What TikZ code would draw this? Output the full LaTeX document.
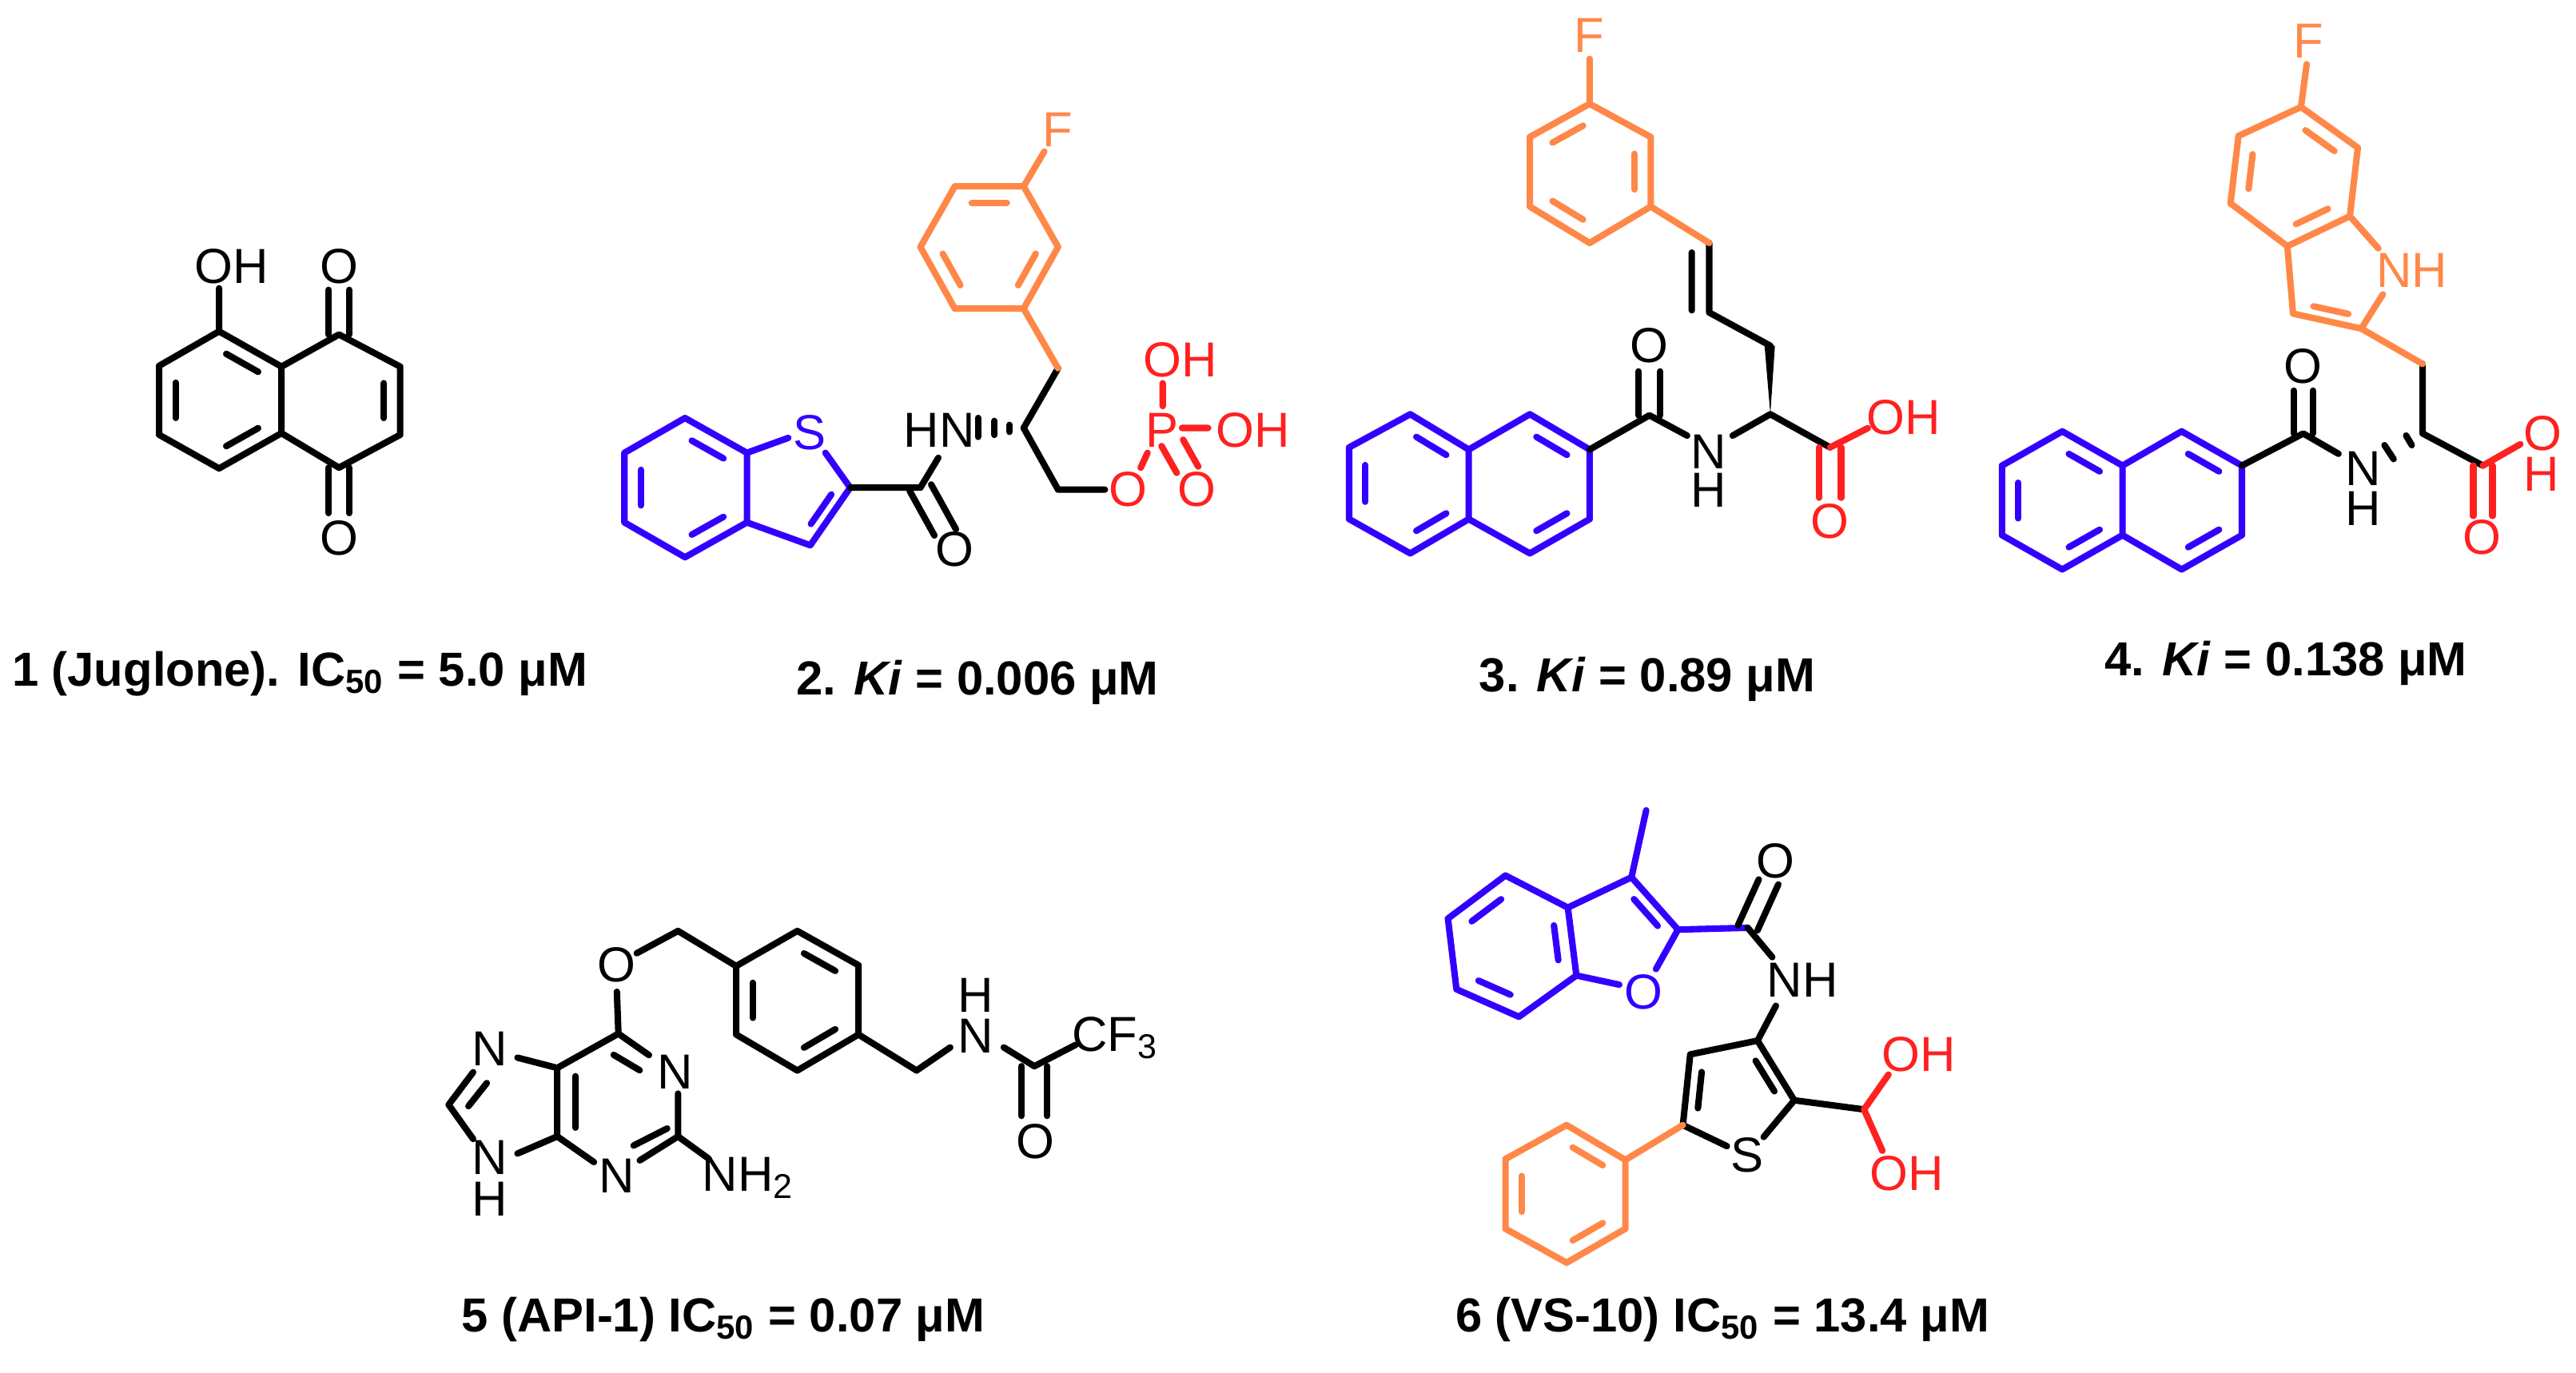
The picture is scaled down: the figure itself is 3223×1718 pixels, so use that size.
\documentclass[tikz,border=0pt]{standalone}
\usepackage{fontspec}
\setmainfont{Liberation Sans}
\usetikzlibrary{calc}
\definecolor{cb}{HTML}{3300FF}
\definecolor{co}{HTML}{FF8849}
\definecolor{cr}{HTML}{FF2020}
\newcommand{\ib}[4][black]{\draw[bond,#1] ($(#2)!0.15!(#3)!0.27!(#4)$) -- ($(#3)!0.15!(#2)!0.27!(#4)$);}
\newcommand{\dbl}[3][black]{\draw[bond,#1] ($(#2)!2.4pt!90:(#3)$) -- ($(#3)!2.4pt!-90:(#2)$); \draw[bond,#1] ($(#2)!2.4pt!-90:(#3)$) -- ($(#3)!2.4pt!90:(#2)$);}
\tikzset{bond/.style={line width=2.3pt,line cap=round,line join=round},
 atom/.style={inner sep=0pt,font=\fontsize{17.5}{20}\selectfont},
 caption/.style={inner sep=0pt,font=\fontsize{17}{20}\selectfont\bfseries},
 mol/.style n args={4}{shift={(#1,#2)},xscale=#3,yscale=#4,shift={(-#1,-#2)}}}
\begin{document}
\begin{tikzpicture}[x=0.01cm,y=-0.01cm]
\useasboundingbox[fill=white] (0,0) rectangle (3223,1718);
% ---------- molecule 1
\begin{scope}[mol={0}{250}{1.531}{0.98}]
\coordinate (a1) at (179,418); \coordinate (a2) at (130,462); \coordinate (a3) at (130,550);
\coordinate (a4) at (179,593); \coordinate (a5) at (230,548); \coordinate (a6) at (230,463);
\coordinate (b1) at (277,422); \coordinate (b2) at (327,463); \coordinate (b3) at (327,550); \coordinate (b4) at (277,592);
\coordinate (cL) at (180,506); \coordinate (cR) at (278,506);
\coordinate (oh1) at (179,363); \coordinate (o1t) at (277,365); \coordinate (o1b) at (277,650);
\draw[bond] (a1)--(a2)--(a3)--(a4)--(a5)--(a6)--cycle (a6)--(b1)--(b2)--(b3)--(b4)--(a5) (a1)--(oh1);
\ib{a6}{a1}{cL}\ib{a2}{a3}{cL}\ib{a4}{a5}{cL}\ib{b2}{b3}{cR}
\dbl{b1}{o1t}\dbl{b4}{o1b}
\node[atom] (t1a) at (189,335) {OH}; \node[atom] (t1b) at (277,335) {O}; \node[atom] (t1c) at (277,682) {O};
\end{scope}
\node[caption] (l1) at (375,843) {1 (Juglone). IC\textsubscript{50} = 5.0 μM};
% ---------- molecule 2
\begin{scope}[mol={750}{100}{1.722}{1.244}]
\coordinate (p1) at (812,440); \coordinate (p2) at (768,475); \coordinate (p3) at (768,545);
\coordinate (p4) at (812,580); \coordinate (p5) at (857,545); \coordinate (p6) at (857,475);
\coordinate (pc) at (812,510); \coordinate (tc) at (893,512);
\coordinate (s2a) at (887,460); \coordinate (s2b) at (914,475); \coordinate (q2) at (932,510); \coordinate (q3) at (903,568);
\draw[bond,cb] (p1)--(p2)--(p3)--(p4)--(p5)--(p6)--cycle (p6)--(s2a) (s2b)--(q2)--(q3)--(p5);
\ib[cb]{p1}{p6}{pc}\ib[cb]{p2}{p3}{pc}\ib[cb]{p4}{p5}{pc}\ib[cb]{q2}{q3}{tc}
\node[atom,cb] (t2s) at (903,455) {S};
\coordinate (cc2) at (983,510); \coordinate (o2e) at (1001,555); \coordinate (n2e) at (996,480);
\coordinate (ca2) at (1058,450); \coordinate (ch2) at (1083,390); \coordinate (cd2) at (1083,512); \coordinate (o2a) at (1117,512);
\draw[bond] (q2)--(cc2)--(n2e) (ch2)--(ca2)--(cd2)--(o2a);
\dbl{cc2}{o2e}
\draw[bond] (1025,440)--(1025,459) (1037,443)--(1037,457) (1048,447)--(1048,454);
\node[atom] (t2o) at (1008,572) {O}; \node[atom] (t2n) at (997,452) {HN};
\coordinate (f1) at (1058,330); \coordinate (f2) at (1008,330); \coordinate (f3) at (983,268);
\coordinate (f4) at (1008,207); \coordinate (f5) at (1058,207); \coordinate (f6) at (1083,268);
\coordinate (fc) at (1033,268); \coordinate (fF) at (1073,172);
\draw[bond,co] (ch2)--(f1) (f1)--(f2)--(f3)--(f4)--(f5)--(f6)--cycle (f5)--(fF);
\ib[co]{f4}{f5}{fc}\ib[co]{f3}{f2}{fc}\ib[co]{f6}{f1}{fc}
\node[atom,co] (t2f) at (1083,150) {F};
\coordinate (pa) at (1143,490); \coordinate (pb) at (1148,475); \coordinate (pu1) at (1159,405); \coordinate (pu2) at (1159,428);
\coordinate (pr1) at (1173,450); \coordinate (pr2) at (1192,450); \coordinate (pd1) at (1166,465); \coordinate (pd2) at (1177,492);
\draw[bond,cr] (pa)--(pb) (pu1)--(pu2) (pr1)--(pr2);
\dbl[cr]{pd1}{pd2}
\node[atom,cr] (t2o1) at (1134,512) {O}; \node[atom,cr] (t2p) at (1159,452) {P};
\node[atom,cr] (t2o2) at (1172,382) {OH}; \node[atom,cr] (t2o3) at (1225,452) {OH}; \node[atom,cr] (t2o4) at (1184,512) {O};
\end{scope}
\node[caption] (l2) at (1223,854) {2. \textit{Ki} = 0.006 μM};
% ---------- molecule 3
\begin{scope}[mol={1650}{0}{1.626}{1.339}]
\coordinate (n1) at (1720,387); \coordinate (n2) at (1673,418); \coordinate (n3) at (1673,485); \coordinate (n4) at (1720,517);
\coordinate (n5) at (1765,485); \coordinate (n6) at (1765,420); \coordinate (n7) at (1812,387); \coordinate (n8) at (1858,420);
\coordinate (n9) at (1858,485); \coordinate (n10) at (1812,517); \coordinate (nL) at (1719,452); \coordinate (nR) at (1812,452);
\draw[bond,cb] (n1)--(n2)--(n3)--(n4)--(n5)--(n6)--cycle (n6)--(n7)--(n8)--(n9)--(n10)--(n5);
\ib[cb]{n1}{n6}{nL}\ib[cb]{n2}{n3}{nL}\ib[cb]{n4}{n5}{nL}\ib[cb]{n7}{n8}{nR}\ib[cb]{n10}{n9}{nR}
\coordinate (c3) at (1904,388); \coordinate (o3e) at (1904,347); \coordinate (n3a) at (1933,407); \coordinate (n3b) at (1968,407);
\coordinate (ca3) at (1997,387); \coordinate (ch3) at (1997,323); \coordinate (e1) at (1950,292); \coordinate (e2) at (1950,227);
\coordinate (cx3) at (2043,418);
\draw[bond] (n8)--(c3)--(n3a) (n3b)--(ca3)--(cx3) (ch3)--(e1)--(e2) (1937,236)--(1937,290);
\fill (ca3) -- (1993,323) -- (2001,323) -- cycle;
\dbl{c3}{o3e}
\node[atom] (t3o) at (1904,323) {O}; \node[atom] (t3n) at (1950,422) {N}; \node[atom] (t3h) at (1950,458) {H};
\coordinate (g1) at (1905,193); \coordinate (g2) at (1905,128); \coordinate (g3) at (1858,97);
\coordinate (g4) at (1812,128); \coordinate (g5) at (1812,193); \coordinate (g6) at (1858,227); \coordinate (gc) at (1858,160); \coordinate (gF) at (1858,55);
\draw[bond,co] (e2)--(g1) (g1)--(g2)--(g3)--(g4)--(g5)--(g6)--cycle (g3)--(gF);
\ib[co]{g2}{g1}{gc}\ib[co]{g4}{g3}{gc}\ib[co]{g5}{g6}{gc}
\node[atom,co] (t3f) at (1858,33) {F};
\coordinate (oh3) at (2072,400); \coordinate (o3d) at (2043,465);
\draw[bond,cr] (cx3)--(oh3); \dbl[cr]{cx3}{o3d}
\node[atom,cr] (t3oh) at (2100,390) {OH}; \node[atom,cr] (t3od) at (2043,487) {O};
\end{scope}
\node[caption] (l3) at (2061,850) {3. \textit{Ki} = 0.89 μM};
% ---------- molecule 4
\begin{scope}[mol={2480}{0}{1.422}{1.339}]
\coordinate (k1) at (2550,403); \coordinate (k2) at (2497,435); \coordinate (k3) at (2497,500); \coordinate (k4) at (2550,532);
\coordinate (k5) at (2603,500); \coordinate (k6) at (2603,435); \coordinate (k7) at (2655,403); \coordinate (k8) at (2708,435);
\coordinate (k9) at (2708,500); \coordinate (k10) at (2655,532); \coordinate (kL) at (2550,468); \coordinate (kR) at (2655,468);
\draw[bond,cb] (k1)--(k2)--(k3)--(k4)--(k5)--(k6)--cycle (k6)--(k7)--(k8)--(k9)--(k10)--(k5);
\ib[cb]{k1}{k6}{kL}\ib[cb]{k2}{k3}{kL}\ib[cb]{k4}{k5}{kL}\ib[cb]{k7}{k8}{kR}\ib[cb]{k10}{k9}{kR}
\coordinate (c4) at (2762,405); \coordinate (o4e) at (2762,365); \coordinate (n4a) at (2793,424);
\coordinate (ca4) at (2867,405); \coordinate (ch4) at (2867,340); \coordinate (cx4) at (2920,435);
\draw[bond] (k8)--(c4)--(n4a) (ch4)--(ca4)--(cx4) (2834,416)--(2842,429) (2853,407)--(2858,416);
\dbl{c4}{o4e}
\node[atom] (t4o) at (2762,342) {O}; \node[atom] (t4n) at (2815,438) {N}; \node[atom] (t4h) at (2815,475) {H};
\coordinate (i2) at (2813,307); \coordinate (i3) at (2753,293); \coordinate (i3a) at (2748,230); \coordinate (i7a) at (2803,202);
\coordinate (iN1) at (2828,232); \coordinate (iN2) at (2832,275);
\coordinate (i4) at (2698,190); \coordinate (i5) at (2705,127); \coordinate (i6) at (2760,100); \coordinate (i7) at (2810,138);
\coordinate (ibc) at (2754,165); \coordinate (ipc) at (2795,262); \coordinate (iF) at (2765,60);
\draw[bond,co] (ch4)--(i2)--(i3)--(i3a)--(i7a)--(iN1) (iN2)--(i2) (i3a)--(i4)--(i5)--(i6)--(i7)--(i7a) (i6)--(iF);
\ib[co]{i4}{i5}{ibc}\ib[co]{i6}{i7}{ibc}\ib[co]{i3a}{i7a}{ibc}\ib[co]{i3}{i2}{ipc}
\node[atom,co] (t4nh) at (2858,253) {NH}; \node[atom,co] (t4f) at (2767,38) {F};
\coordinate (oh4) at (2953,415); \coordinate (o4d) at (2920,482);
\draw[bond,cr] (cx4)--(oh4); \dbl[cr]{cx4}{o4d}
\node[atom,cr] (t4oo) at (2973,405) {O}; \node[atom,cr] (t4oh) at (2972,443) {H}; \node[atom,cr] (t4od) at (2920,502) {O};
\end{scope}
\node[caption] (l4) at (2860,830) {4. \textit{Ki} = 0.138 μM};
% ---------- molecule 5
\begin{scope}[mol={500}{1050}{1.913}{1.071}]
\coordinate (u6) at (643,1277); \coordinate (uO1) at (642,1228); \coordinate (uO2) at (655,1183); \coordinate (um) at (682,1157);
\coordinate (r1) at (720,1198); \coordinate (r2) at (760,1157); \coordinate (r3) at (800,1197); \coordinate (r4) at (800,1278);
\coordinate (r5) at (760,1320); \coordinate (r6) at (720,1278); \coordinate (rc) at (760,1238);
\coordinate (um2) at (838,1320); \coordinate (uN1) at (860,1293); \coordinate (uN2) at (895,1293); \coordinate (uc) at (915,1315);
\coordinate (uf) at (942,1290); \coordinate (uod) at (915,1373);
\draw[bond] (u6)--(uO1) (uO2)--(um)--(r1) (r1)--(r2)--(r3)--(r4)--(r5)--(r6)--cycle (r4)--(um2)--(uN1) (uN2)--(uc)--(uf);
\ib{r2}{r3}{rc}\ib{r1}{r6}{rc}\ib{r5}{r4}{rc}
\dbl{uc}{uod}
\coordinate (v1e) at (663,1302); \coordinate (v1s) at (682,1347); \coordinate (v2) at (682,1397); \coordinate (v3e) at (657,1425);
\coordinate (v3s) at (627,1427); \coordinate (v4) at (603,1397); \coordinate (v5) at (603,1317);
\coordinate (w7e) at (577,1305); \coordinate (w7s) at (548,1322); \coordinate (w8) at (532,1360); \coordinate (w9e) at (548,1400); \coordinate (w9s) at (577,1417);
\coordinate (vn) at (702,1423);
\draw[bond] (u6)--(v1e) (v1s)--(v2)--(v3e) (v3s)--(v4)--(v5)--(u6) (v5)--(w7e) (w7s)--(w8)--(w9e) (w9s)--(v4) (v2)--(vn);
\draw[bond] (640,1302)--(657,1320) (653,1408)--(675,1388) (615,1327)--(615,1387) (545,1362)--(557,1335);
\node[atom] (t5o) at (642,1197) {O}; \node[atom] (t5n1) at (680,1322) {N}; \node[atom] (t5n3) at (642,1443) {N};
\node[atom] (t5n7) at (559,1295) {N}; \node[atom] (t5n9) at (559,1422) {N}; \node[atom] (t5h9) at (559,1470) {H};
\node[atom] (t5nh2) at (728,1446) {NH\textsubscript{2}};
\node[atom] (t5n) at (877,1280) {N}; \node[atom] (t5h) at (877,1232) {H};
\node[atom] (t5cf) at (968,1282) {CF\textsubscript{3}}; \node[atom] (t5od) at (916,1403) {O};
\end{scope}
\node[caption] (l5) at (905,1651) {5 (API-1) IC\textsubscript{50} = 0.07 μM};
% ---------- molecule 6
\begin{scope}[mol={1750}{1000}{1.531}{1.148}]
\coordinate (h1) at (1837,1083); \coordinate (h2) at (1790,1130); \coordinate (h3) at (1797,1207); \coordinate (h4) at (1848,1237);
\coordinate (h5) at (1895,1192); \coordinate (h6) at (1888,1118); \coordinate (hc) at (1843,1160);
\coordinate (j3) at (1940,1085); \coordinate (j2) at (1978,1142); \coordinate (jo1) at (1930,1202); \coordinate (jo2) at (1960,1185);
\coordinate (jc) at (1932,1150); \coordinate (jm) at (1952,1012); \coordinate (c6) at (2035,1140);
\draw[bond,cb] (h1)--(h2)--(h3)--(h4)--(h5)--(h6)--cycle (h6)--(j3)--(j2)--(jo2) (jo1)--(h5) (j3)--(jm) (j2)--(c6);
\ib[cb]{h1}{h2}{hc}\ib[cb]{h3}{h4}{hc}\ib[cb]{h6}{h5}{hc}\ib[cb]{j3}{j2}{jc}
\node[atom,cb] (t6o) at (1950,1210) {O};
\coordinate (o6e) at (2052,1090); \coordinate (n6a) at (2055,1172); \coordinate (n6b) at (2058,1225);
\coordinate (s3) at (2043,1263); \coordinate (s4) at (1988,1278); \coordinate (s5) at (1982,1355); \coordinate (sSa) at (2018,1378);
\coordinate (sSb) at (2048,1368); \coordinate (s2) at (2073,1328); \coordinate (sc) at (2025,1318); \coordinate (sx) at (2130,1338);
\draw[bond] (c6)--(n6a) (n6b)--(s3)--(s4)--(s5)--(sSa) (sSb)--(s2)--(s3) (s2)--(sx);
\dbl{c6}{o6e}
\ib{s4}{s5}{sc}\ib{s3}{s2}{sc}
\node[atom] (t6oo) at (2058,1067) {O}; \node[atom] (t6nh) at (2080,1197) {NH}; \node[atom] (t6s) at (2035,1388) {S};
\coordinate (sxu) at (2150,1300); \coordinate (sxd) at (2145,1383);
\draw[bond,cr] (sx)--(sxu) (sx)--(sxd);
\node[atom,cr] (t6oh1) at (2175,1278) {OH}; \node[atom,cr] (t6oh2) at (2165,1408) {OH};
\coordinate (y1) at (1935,1393); \coordinate (y2) at (1887,1355); \coordinate (y3) at (1837,1392);
\coordinate (y4) at (1837,1468); \coordinate (y5) at (1887,1505); \coordinate (y6) at (1935,1468); \coordinate (yc) at (1886,1430);
\draw[bond,co] (s5)--(y1) (y1)--(y2)--(y3)--(y4)--(y5)--(y6)--cycle;
\ib[co]{y2}{y1}{yc}\ib[co]{y3}{y4}{yc}\ib[co]{y5}{y6}{yc}
\end{scope}
\node[caption] (l6) at (2155,1651) {6 (VS-10) IC\textsubscript{50} = 13.4 μM};
\end{tikzpicture}
\end{document}
